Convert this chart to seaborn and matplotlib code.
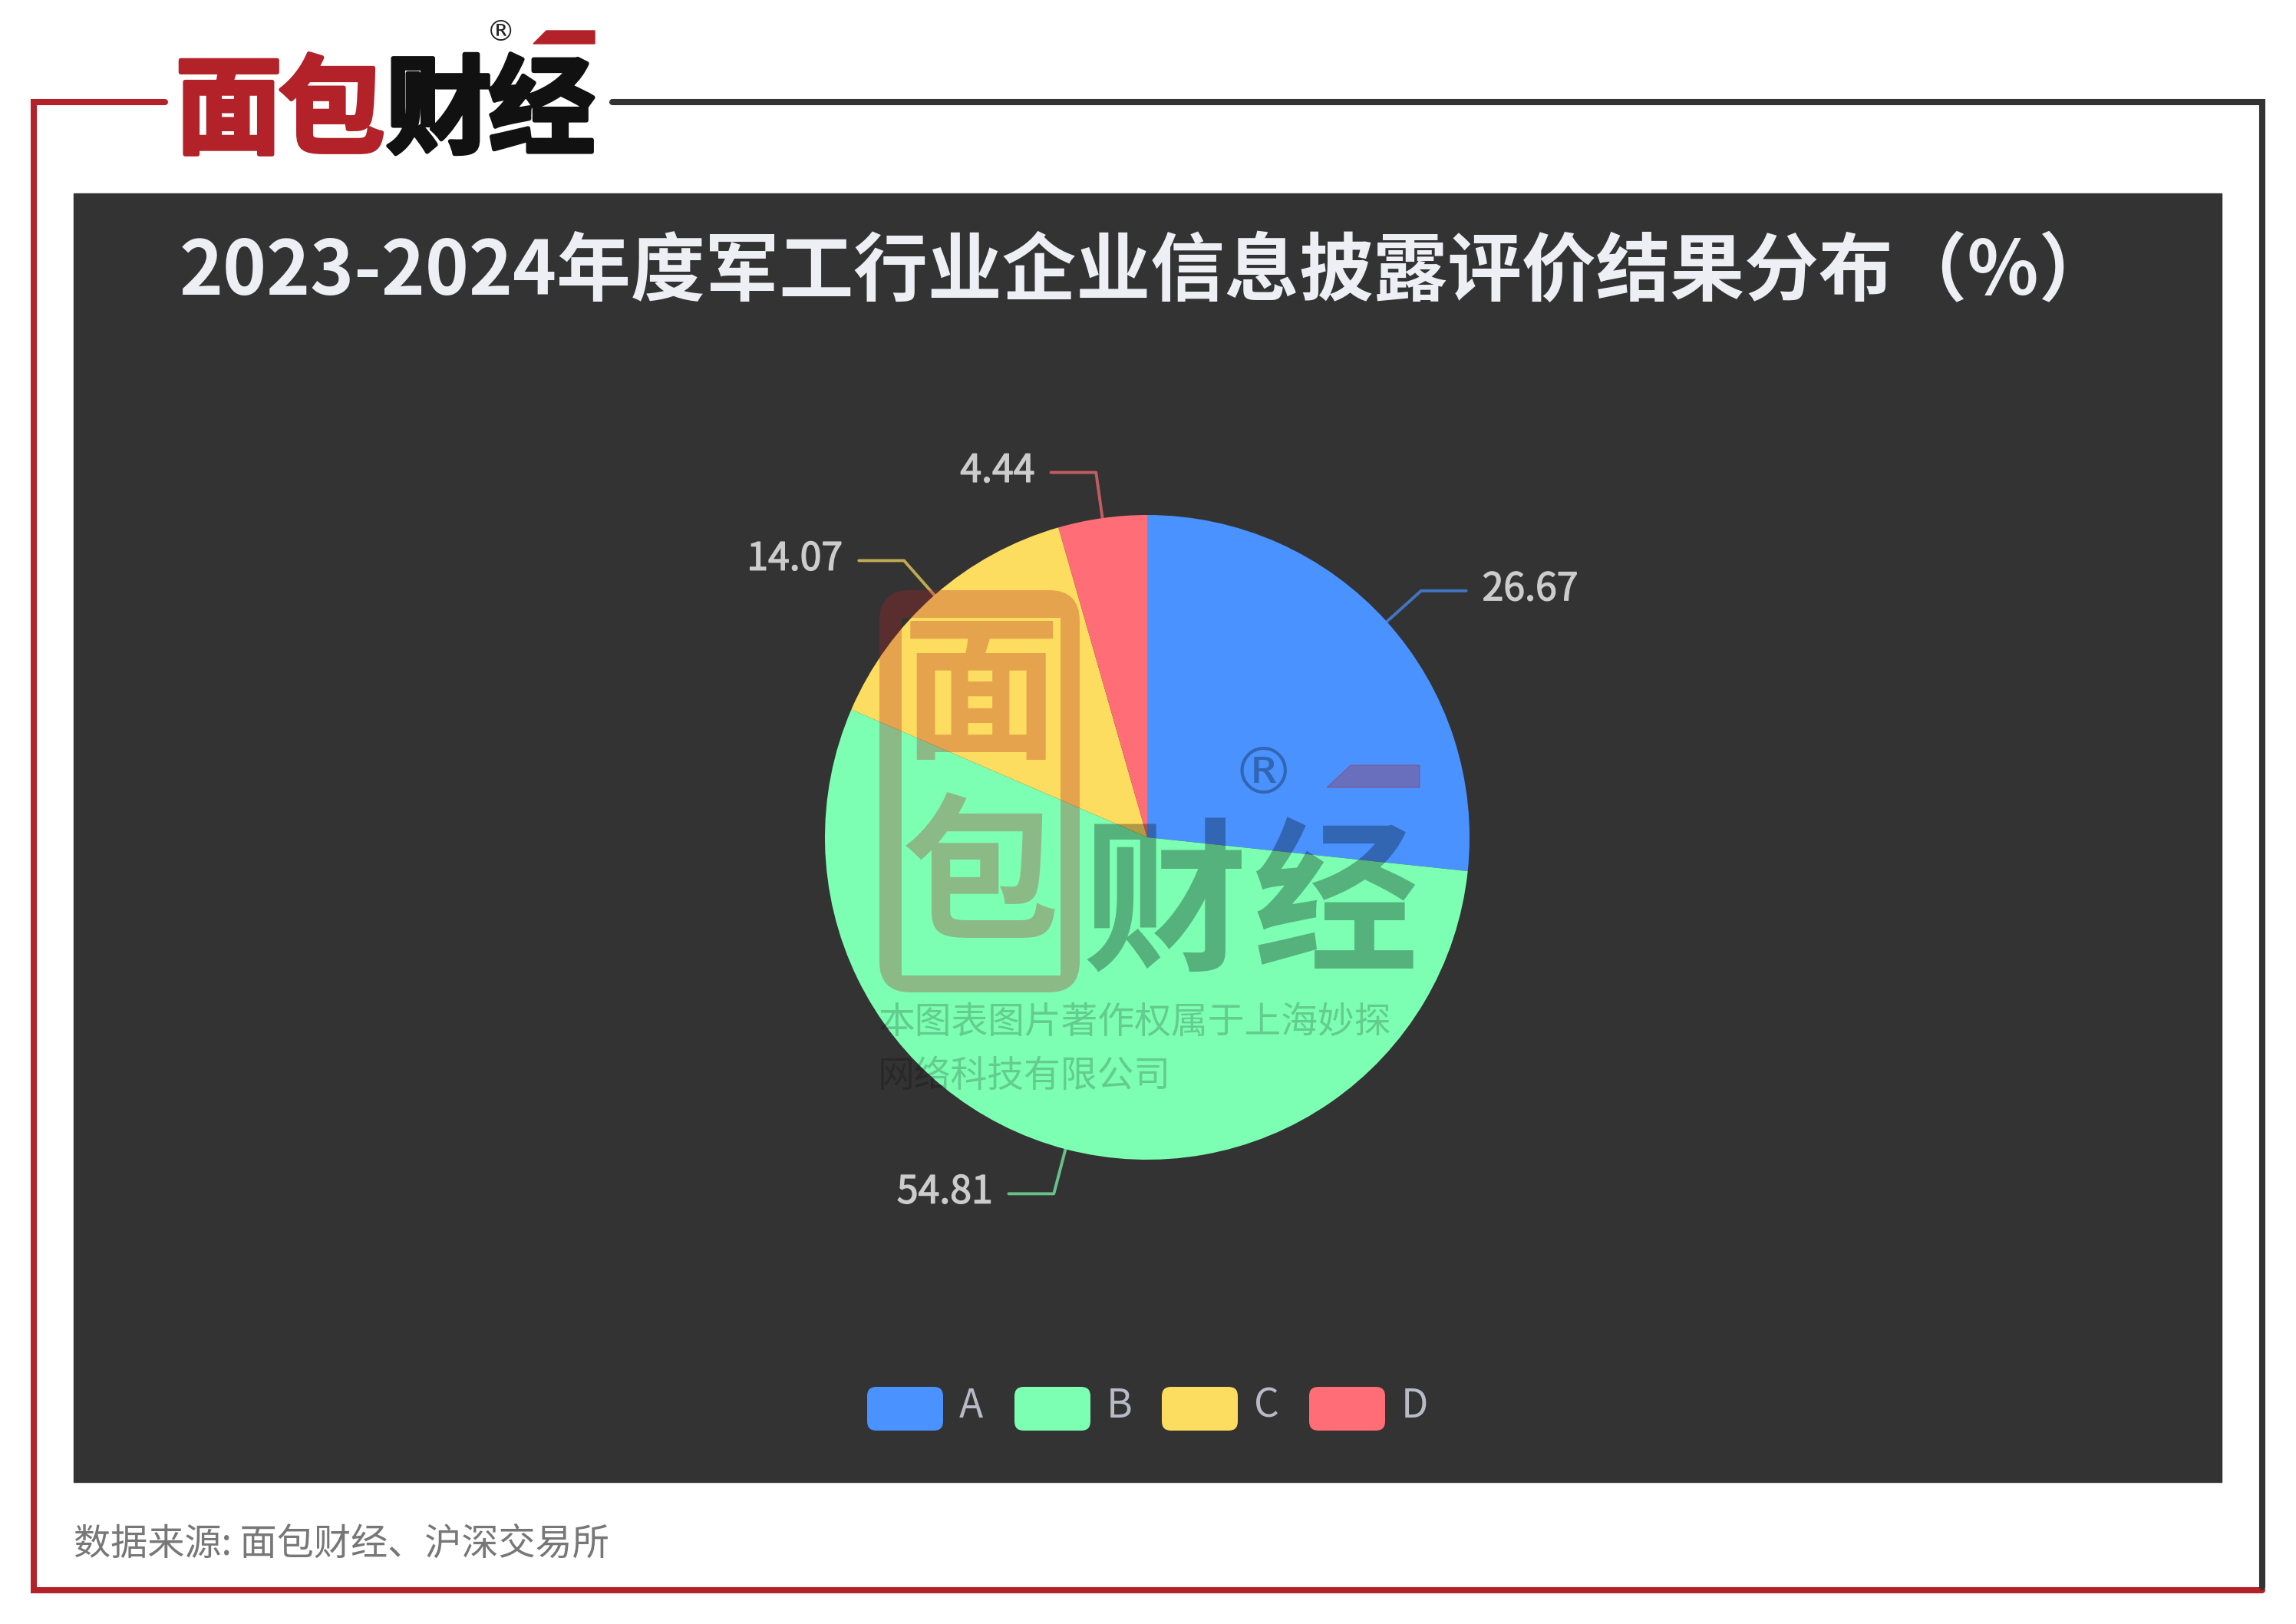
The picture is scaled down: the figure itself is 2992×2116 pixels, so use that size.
import matplotlib
matplotlib.use('Agg')
import matplotlib.pyplot as plt
import matplotlib.patheffects as pe
import seaborn as sns
from matplotlib.patches import FancyBboxPatch, PathPatch, Polygon, Rectangle
from matplotlib.path import Path
import numpy as np

W, H = 2992, 2116

categories = ['A', 'B', 'C', 'D']
values = [26.67, 54.81, 14.07, 4.44]
value_labels = ['26.67', '54.81', '14.07', '4.44']
colors = ['#4992FF', '#7CFFB2', '#FDDD60', '#FF6E76']

title = '2023-2024年度军工行业企业信息披露评价结果分布（%）'
source = '数据来源: 面包财经、沪深交易所'
notice = ['本图表图片著作权属于上海妙探', '网络科技有限公司']

sns.set_theme(style='white')
plt.rcParams['font.family'] = ['Noto Sans CJK SC', 'DejaVu Sans']

RED = '#B22228'
DARK = '#333333'

fig = plt.figure(figsize=(W / 100, H / 100), dpi=100, facecolor='white')

# page layer, in image pixels
page = fig.add_axes([0, 0, 1, 1])
page.set_xlim(0, W)
page.set_ylim(H, 0)
page.axis('off')

page.add_patch(Rectangle((96, 252), 2799, 1679, color=DARK, zorder=1))

# frame round the panel
page.plot([215, 44, 44, 2948], [133, 133, 2072, 2072], color=RED, lw=5.8, solid_joinstyle='miter', zorder=2)
page.plot([798, 2948, 2948], [133, 133, 2068], color=DARK, lw=5.8, solid_joinstyle='miter', zorder=2)

# logo
for ch, x, c in zip('面包财经', [298, 432, 572, 706], [RED, RED, '#111111', '#111111']):
    t = page.text(x, 148, ch, color=c, ha='center', va='center', fontsize=100, fontweight='bold', zorder=3)
    t.set_path_effects([pe.withStroke(linewidth=4, foreground=c)])
page.add_patch(Polygon([[695, 57], [712, 40], [775, 40], [775, 57]], color=RED, zorder=3))
page.text(653, 43, '®', fontsize=27, color='#222222', family='DejaVu Sans', ha='center', va='center', zorder=3)

page.text(1494, 356, title, fontsize=69.7, fontweight='bold', color='#EEEEF5', ha='center', va='center', zorder=3)
page.text(96, 2012, source, fontsize=34.7, color='#777777', ha='left', va='center', zorder=3)

# legend
for i, (cat, c) in enumerate(zip(categories, colors)):
    x0 = 1130 + i * 192
    page.add_patch(FancyBboxPatch((x0 + 12, 1819), 75, 33, boxstyle='round,pad=12,rounding_size=12',
                                  facecolor=c, edgecolor='none', zorder=3))
    page.text(x0 + 120, 1832, cat, fontsize=37, color='#B9B9C8', ha='left', va='center', zorder=3)

# pie, radius 420 px around (1495, 1091)
side = 1680
pie_ax = fig.add_axes([(1495 - side / 2) / W, 1 - (1091 + side / 2) / H, side / W, side / H])
pie_ax.patch.set_alpha(0)
wedges, _ = pie_ax.pie(values, colors=colors, startangle=90, counterclock=False, radius=1,
                       wedgeprops=dict(linewidth=0))
pie_ax.set_xlim(-2, 2)
pie_ax.set_ylim(-2, 2)

# leader lines and value labels
for wedge, label, c in zip(wedges, value_labels, colors):
    a = np.deg2rad((wedge.theta1 + wedge.theta2) / 2)
    ux, uy = np.cos(a), np.sin(a)
    side_sign = 1 if ux >= 0 else -1
    ex, ey = 1.143 * ux, 1.143 * uy
    xs = [ux, ex, ex + side_sign * 0.14]
    ys = [uy, ey, ey]
    pie_ax.plot(xs, ys, color=c, lw=2.8, alpha=0.7, clip_on=False, zorder=4)
    t = pie_ax.text(xs[-1] + side_sign * 0.05, ey + 0.004, label, fontsize=36, color='#CCCCCC',
                    ha='left' if side_sign > 0 else 'right', va='center', clip_on=False, zorder=4)
    t.set_path_effects([pe.withStroke(linewidth=1, foreground='#CCCCCC')])

# watermark on top of the chart
mark = fig.add_axes([0, 0, 1, 1])
mark.set_xlim(0, W)
mark.set_ylim(H, 0)
mark.axis('off')
mark.patch.set_alpha(0)

# rounded block behind the two stacked red characters, with its middle cut out
outer = FancyBboxPatch((1186, 809), 181, 444, boxstyle='round,pad=40,rounding_size=40').get_path()
inner = Path([(1175, 805), (1175, 1271), (1382, 1271), (1382, 805), (1175, 805)], closed=True)
mark.add_patch(PathPatch(Path.make_compound_path(outer, inner), facecolor=RED, edgecolor='none', alpha=0.31))

mark.text(1278, 912, '面', fontsize=148, fontweight='bold', color=RED, alpha=0.31, ha='center', va='center')
mark.text(1278, 1148, '包', fontsize=148, fontweight='bold', color=RED, alpha=0.31, ha='center', va='center')
mark.text(1518, 1185, '财', fontsize=155, fontweight='bold', color='black', alpha=0.3, ha='center', va='center')
mark.text(1740, 1185, '经', fontsize=155, fontweight='bold', color='black', alpha=0.3, ha='center', va='center')
mark.add_patch(Polygon([[1729, 1026], [1760, 997], [1850, 997], [1850, 1026]], color=RED, alpha=0.31))
mark.text(1646, 1010, '®', fontsize=60, color='black', alpha=0.3, family='DejaVu Sans', ha='center', va='center')
mark.text(1144, 1332, notice[0], fontsize=34.4, color='black', alpha=0.2, ha='left', va='center')
mark.text(1144, 1402, notice[1], fontsize=34.4, color='black', alpha=0.2, ha='left', va='center')

plt.savefig('out.png', dpi=100, facecolor='white')
print('Saved: out.png')
